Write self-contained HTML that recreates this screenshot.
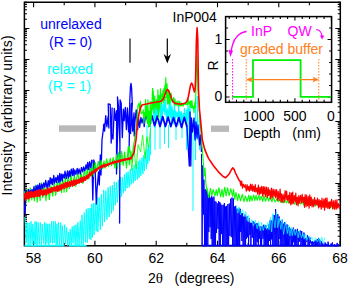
<!DOCTYPE html><html><head><meta charset="utf-8"><style>html,body{margin:0;padding:0;background:#fff;width:349px;height:287px;overflow:hidden}svg{display:block}text{font-family:"Liberation Sans",sans-serif}</style></head><body><svg width="349" height="287" viewBox="0 0 349 287"><rect x="24.4" y="2.25" width="315.90000000000003" height="243.55" fill="none" stroke="#000" stroke-width="1.5"/><path d="M33.6 245.8v-5M33.6 2.25v5M64.2 245.8v-3M64.2 2.25v3M94.9 245.8v-5M94.9 2.25v5M125.6 245.8v-3M125.6 2.25v3M156.2 245.8v-5M156.2 2.25v5M186.8 245.8v-3M186.8 2.25v3M217.5 245.8v-5M217.5 2.25v5M248.2 245.8v-3M248.2 2.25v3M278.8 245.8v-5M278.8 2.25v5M309.4 245.8v-3M309.4 2.25v3M340.1 245.8v-5M340.1 2.25v5M24.4 28.5h5M340.3 28.5h-5M24.4 19.2h2.6M340.3 19.2h-2.6M24.4 13.7h2.6M340.3 13.7h-2.6M24.4 9.8h2.6M340.3 9.8h-2.6M24.4 6.8h2.6M340.3 6.8h-2.6M24.4 4.4h2.6M340.3 4.4h-2.6M24.4 2.3h2.6M340.3 2.3h-2.6M24.4 59.5h5M340.3 59.5h-5M24.4 50.2h2.6M340.3 50.2h-2.6M24.4 44.7h2.6M340.3 44.7h-2.6M24.4 40.8h2.6M340.3 40.8h-2.6M24.4 37.8h2.6M340.3 37.8h-2.6M24.4 35.4h2.6M340.3 35.4h-2.6M24.4 33.3h2.6M340.3 33.3h-2.6M24.4 31.5h2.6M340.3 31.5h-2.6M24.4 29.9h2.6M340.3 29.9h-2.6M24.4 90.5h5M340.3 90.5h-5M24.4 81.2h2.6M340.3 81.2h-2.6M24.4 75.7h2.6M340.3 75.7h-2.6M24.4 71.8h2.6M340.3 71.8h-2.6M24.4 68.8h2.6M340.3 68.8h-2.6M24.4 66.4h2.6M340.3 66.4h-2.6M24.4 64.3h2.6M340.3 64.3h-2.6M24.4 62.5h2.6M340.3 62.5h-2.6M24.4 60.9h2.6M340.3 60.9h-2.6M24.4 121.5h5M340.3 121.5h-5M24.4 112.2h2.6M340.3 112.2h-2.6M24.4 106.7h2.6M340.3 106.7h-2.6M24.4 102.8h2.6M340.3 102.8h-2.6M24.4 99.8h2.6M340.3 99.8h-2.6M24.4 97.4h2.6M340.3 97.4h-2.6M24.4 95.3h2.6M340.3 95.3h-2.6M24.4 93.5h2.6M340.3 93.5h-2.6M24.4 91.9h2.6M340.3 91.9h-2.6M24.4 152.5h5M340.3 152.5h-5M24.4 143.2h2.6M340.3 143.2h-2.6M24.4 137.7h2.6M340.3 137.7h-2.6M24.4 133.8h2.6M340.3 133.8h-2.6M24.4 130.8h2.6M340.3 130.8h-2.6M24.4 128.4h2.6M340.3 128.4h-2.6M24.4 126.3h2.6M340.3 126.3h-2.6M24.4 124.5h2.6M340.3 124.5h-2.6M24.4 122.9h2.6M340.3 122.9h-2.6M24.4 183.5h5M340.3 183.5h-5M24.4 174.2h2.6M340.3 174.2h-2.6M24.4 168.7h2.6M340.3 168.7h-2.6M24.4 164.8h2.6M340.3 164.8h-2.6M24.4 161.8h2.6M340.3 161.8h-2.6M24.4 159.4h2.6M340.3 159.4h-2.6M24.4 157.3h2.6M340.3 157.3h-2.6M24.4 155.5h2.6M340.3 155.5h-2.6M24.4 153.9h2.6M340.3 153.9h-2.6M24.4 214.5h5M340.3 214.5h-5M24.4 205.2h2.6M340.3 205.2h-2.6M24.4 199.7h2.6M340.3 199.7h-2.6M24.4 195.8h2.6M340.3 195.8h-2.6M24.4 192.8h2.6M340.3 192.8h-2.6M24.4 190.4h2.6M340.3 190.4h-2.6M24.4 188.3h2.6M340.3 188.3h-2.6M24.4 186.5h2.6M340.3 186.5h-2.6M24.4 184.9h2.6M340.3 184.9h-2.6M24.4 245.5h5M340.3 245.5h-5M24.4 236.2h2.6M340.3 236.2h-2.6M24.4 230.7h2.6M340.3 230.7h-2.6M24.4 226.8h2.6M340.3 226.8h-2.6M24.4 223.8h2.6M340.3 223.8h-2.6M24.4 221.4h2.6M340.3 221.4h-2.6M24.4 219.3h2.6M340.3 219.3h-2.6M24.4 217.5h2.6M340.3 217.5h-2.6M24.4 215.9h2.6M340.3 215.9h-2.6" stroke="#000" stroke-width="1.1" fill="none"/><text x="33.6" y="263" font-size="14" fill="#000" text-anchor="middle" >58</text><text x="94.9" y="263" font-size="14" fill="#000" text-anchor="middle" >60</text><text x="156.2" y="263" font-size="14" fill="#000" text-anchor="middle" >62</text><text x="217.5" y="263" font-size="14" fill="#000" text-anchor="middle" >64</text><text x="278.8" y="263" font-size="14" fill="#000" text-anchor="middle" >66</text><text x="340.1" y="263" font-size="14" fill="#000" text-anchor="middle" >68</text><text x="148" y="282.5" font-size="14" fill="#000">2<tspan font-family="Liberation Serif, serif" style="font-family:Liberation Serif" font-size="15">θ</tspan></text><text x="204.5" y="282.5" font-size="14" fill="#000" text-anchor="middle" >(degrees)</text><text x="0" y="0" font-size="14" fill="#000" text-anchor="middle" transform="translate(12.4,115.3) rotate(-90)" letter-spacing="0.22" xml:space="preserve">Intensity  (arbitrary units)</text><text x="40.2" y="29" font-size="14" fill="#0000ff" text-anchor="start" >unrelaxed</text><text x="49.1" y="47.4" font-size="14" fill="#0000ff" text-anchor="start" >(R = 0)</text><text x="47.2" y="74.1" font-size="14" fill="#00ffff" text-anchor="start" >relaxed</text><text x="48.1" y="91.2" font-size="14" fill="#00ffff" text-anchor="start" >(R = 1)</text><text x="172.5" y="22" font-size="14" fill="#000" text-anchor="start" >InP004</text><rect x="59" y="125.3" width="37" height="6.5" fill="#b9b9b9"/><rect x="211" y="125.6" width="18" height="6.3" fill="#b9b9b9"/><path d="M130 38.4V62.8" stroke="#404040" stroke-width="1.5"/><path d="M167.3 38.4V58" stroke="#000" stroke-width="1.2"/><path d="M163.6 54L167.3 63.5L171 54L167.3 57Z" fill="#000"/><path d="M24.8 217.0 25.2 222.4 26.2 243.2 27.1 222.5 28.1 245.4 29.1 222.9 30.2 245.7 31.0 221.3 32.2 243.9 32.8 223.9 34.1 244.0 35.1 221.5 35.7 244.4 36.4 221.6 37.2 245.9 38.2 222.3 39.3 244.4 40.4 222.5 41.4 244.6 42.2 224.0 43.5 243.5 44.5 221.9 45.3 245.1 46.0 223.3 46.9 243.5 47.8 223.9 48.9 246.0 49.7 223.7 50.7 243.1 51.6 221.2 52.6 243.7 53.4 221.3 54.3 243.1 55.3 221.4 56.2 245.7 56.9 223.8 57.6 244.4 58.5 222.3 59.6 245.6 60.7 222.6 61.6 245.4 62.4 225.4 63.5 245.2 64.7 224.6 65.6 243.9 66.6 227.4 67.8 245.6 68.6 231.9 69.5 245.4 70.2 229.2 71.2 245.5 72.2 226.7 73.1 243.6 74.1 225.5 75.2 245.5 76.0 224.6 77.1 245.2 77.9 222.4 79.1 245.4 80.3 220.6 81.3 244.5 82.0 215.1 83.2 245.1 84.3 212.6 85.4 242.3 86.3 209.4 87.3 242.9 88.1 208.3 89.3 238.9 90.1 208.0 90.9 239.9 91.7 204.3 92.4 237.6 93.3 203.2 94.0 235.0 95.2 203.1 96.2 231.1 97.2 197.2 97.9 232.2 99.1 197.6 100.3 229.6 101.3 194.1 102.4 226.2 103.7 189.8 104.6 222.1 105.8 190.7 106.9 219.6 108.1 187.4 109.1 217.0 110.3 186.1 111.4 213.5 112.4 185.2 113.3 210.7 114.3 181.8 115.3 205.2 116.5 182.2 117.4 202.7 118.4 179.8 119.5 201.1 120.6 176.9 121.6 196.5 122.4 177.2 123.4 193.3 124.5 174.4 125.2 191.1 126.3 172.7 127.0 188.2 128.1 171.6 129.2 187.4 130.3 168.9 131.2 184.6 132.4 168.5 133.3 183.2 134.1 165.2 135.1 181.0 136.2 164.1 137.4 179.7 138.2 161.1 139.0 178.1 139.9 159.4 140.8 175.8 142.0 157.6 142.9 174.1 143.6 155.4 144.3 171.1 145.3 151.8 146.4 168.9 147.1 148.9 147.8 163.9 148.6 145.7 149.3 161.1 150.2 140.5" stroke="#00ffff" stroke-width="1.0" fill="none" stroke-linejoin="round" /><path d="M24.5 245.6H64.5M69 245.6H86.5" stroke="#00ffff" stroke-width="1.8"/><path d="M153.0 110.2 153.9 118.6 154.5 102.8 155.0 127.8 155.7 103.9 156.3 123.5 156.9 101.4 157.6 117.2 158.4 95.8 159.3 112.0 159.8 105.2 160.6 125.7 161.3 99.6 162.1 121.3 162.9 104.0 163.7 111.1 164.4 99.8 164.9 115.0 165.8 100.9 166.6 124.5 167.4 108.9 168.3 120.3 169.2 102.3 170.0 117.2 170.7 101.1 171.3 121.1 172.2 106.4 172.7 118.0 173.2 110.4 173.7 123.9 174.6 102.4 175.1 121.7 175.9 111.1 176.7 116.5 177.4 112.6 177.9 125.3 178.6 104.8 179.4 120.4 180.1 111.6 180.9 124.3 181.5 111.7 182.4 125.6 183.2 113.3 183.9 121.3 184.5 108.4 185.2 121.0 185.7 113.5 186.4 123.4 187.2 109.0 187.9 120.1 188.5 108.9 189.1 117.2 190.0 106.0 190.7 126.6" stroke="#00ffff" stroke-width="1.1" fill="none" stroke-linejoin="round" /><path d="M147 125V154M150.5 125V155M155 125V150M160 125V149M164.5 125V144M168.5 125V148M176 125V140M182 125V138M193 120V211" stroke="#00ffff" stroke-width="1.0"/><path d="M186.5 110V150M188 105V146M195.5 100V160M197.5 96V140M199.5 110V150" stroke="#00ffff" stroke-width="1.2"/><path d="M91.9 159.8 92.8 200.0 93.8 160.0 95.0 165.0 96.3 204.0 97.0 190.0 98.5 172.0 99.3 185.0 100.3 155.0 101.0 175.0 102.0 140.0 103.0 132.0 104.0 124.0 103.5 125.8 104.6 131.1 105.7 115.6 106.9 126.8 108.1 116.2 108.9 128.0 108.2 104.0 110.2 104.3 111.2 143.0 112.1 107.9 111.7 134.0 113.0 139.0 114.3 108.5 115.4 120.4 116.6 110.7 116.5 174.0 117.8 124.1 117.5 97.0 118.6 107.0 119.9 144.7 119.6 223.0 120.1 100.0 121.2 103.0 122.3 137.6 123.4 109.1 124.2 120.7 125.3 107.4 126.4 129.6 127.4 107.9 128.6 131.9 129.8 103.9 129.1 152.0 129.8 100.0 130.5 86.0 131.0 83.4 131.6 88.0 132.3 104.0 130.6 133.5 131.4 103.5 132.7 131.1 134.0 112.8 134.2 136.0 134.8 123.0 136.2 109.8 137.6 129.7 138.6 118.1 139.6 127.3 140.9 117.5 142.0 123.2 143.3 117.8 144.2 126.7 145.3 116.6" stroke="#0000ff" stroke-width="1.3" fill="none" stroke-linejoin="round" /><path d="M145.3 116.6 146.5 115.6 149.2 126.0 151.9 115.8 154.6 125.7 157.3 116.1 160.0 126.4 162.7 116.6 165.4 126.5 168.1 117.1 170.8 126.6 173.5 117.6 176.2 126.5 178.9 117.6 181.6 127.4 184.3 117.3 187.0 127.0" stroke="#0000ff" stroke-width="1.8" fill="none" stroke-linejoin="round" /><path d="M187.0 127.0 189.3 166.0 190.0 112.0 190.8 166.0 191.5 118.0 192.5 132.0 194.0 118.0 195.0 140.0 196.0 122.0 197.0 138.0 198.0 125.0 199.5 145.0 200.5 135.0 201.5 152.0" stroke="#0000ff" stroke-width="1.3" fill="none" stroke-linejoin="round" /><path d="M201.5 153.9 202.1 245.6 202.8 165.4 203.4 214.5 203.9 179.7 204.6 245.6 205.0 189.3 205.5 245.6 206.1 189.3 206.6 245.6 207.2 191.6 207.8 245.6 208.4 194.9 208.8 232.1 209.5 192.7 210.1 227.2 210.7 197.7 211.2 239.1 211.7 195.8 212.2 245.6 212.6 197.7 213.2 245.6 213.9 196.6 214.3 245.6 214.8 200.9 215.5 245.6 216.0 201.7 216.5 232.9 217.3 203.4 218.0 228.9 218.5 201.4 219.2 245.6 219.7 201.9 220.3 245.6 220.7 203.5 221.4 234.1 221.9 205.1 222.6 245.6 223.2 204.7 223.8 245.6 224.4 203.0 225.0 245.6 225.5 206.5 226.2 245.6 226.6 205.9 227.3 245.6 227.9 204.1 228.6 245.6 229.3 203.5 229.9 236.0 230.6 198.8 231.3 237.2 232.0 197.5 232.7 245.6 233.4 198.5 233.9 245.6 234.6 206.5 235.1 245.6 235.7 205.9 236.4 245.6 236.9 208.6 237.5 245.6 238.1 209.1 238.8 245.6 239.3 208.2 239.7 245.6 240.2 208.8 240.7 232.0 241.3 213.2 241.9 241.0 242.4 213.1 243.1 245.6 243.6 216.4 244.2 245.6 244.8 214.5 245.6 245.6 246.0 216.8 246.5 238.7 247.0 216.3 247.5 237.3 248.1 221.8 248.6 245.6 249.3 218.2 249.9 235.1 250.4 222.8 250.9 245.6 251.6 222.8 252.3 237.7 253.0 221.1 253.7 245.6 254.3 222.2 255.0 245.6 255.4 223.6 256.0 245.6 256.6 223.2 257.2 242.2 257.8 223.4 258.3 245.6 258.9 226.3 259.3 238.7 259.9 226.0 260.5 245.6 261.0 226.5 261.6 245.6 262.3 226.1 263.0 238.8 263.7 224.8 264.1 245.6 264.8 225.1 265.3 245.6 265.8 225.3 266.2 245.6 266.6 228.7 267.2 245.6 267.9 228.1 268.4 245.6 268.8 224.6 269.4 241.0 270.1 220.4 270.6 245.6 271.0 220.5 271.6 239.4 272.0 220.5 272.8 245.6 273.3 214.9 274.0 245.6 274.6 215.1 275.1 245.6 275.6 209.0 276.1 245.6 276.6 214.8 277.1 245.6 277.8 214.3 278.6 245.6 279.2 216.6 279.9 239.2 280.3 220.8 280.8 245.6 281.4 222.1 281.9 245.6 282.3 219.8 283.0 245.6 283.5 223.7 284.2 245.6 284.9 222.0 285.4 245.6 285.9 225.2 286.4 245.6 287.0 224.4 287.6 245.6 288.0 228.0 288.6 245.6 289.3 227.1 289.9 245.6 290.7 228.6 291.4 245.6 292.0 229.7 292.6 245.6 293.3 227.6 293.7 242.3 294.3 230.3 294.8 245.6 295.2 229.4 295.8 245.6 296.5 230.5 296.9 245.6 297.4 228.8 298.2 245.6 298.9 231.4 299.5 241.6 300.3 230.6 300.9 245.6 301.7 231.0 302.1 245.6 302.6 236.0 303.3 245.6 303.9 232.5 304.3 245.6 304.8 237.6 305.6 245.6 306.1 238.3 306.8 241.8 307.4 235.3 308.1 245.6 308.7 236.2 309.4 245.6 310.1 237.6 310.8 243.5 311.4 241.6 312.0 245.6 312.5 241.2 313.0 245.6 313.6 242.3 314.1 244.7 314.6 240.6 315.3 245.6 315.9 240.4 316.7 245.6 317.3 239.0 317.9 245.6 318.6 237.9 319.1 245.6 319.6 239.2 320.0 243.1 320.6 240.7 321.1 245.6 321.6 241.4 322.2 245.6 322.9 243.4 323.5 245.6 324.0 245.9 324.5 245.6 325.1 242.4 325.7 245.5 326.2 243.8 326.6 245.6 327.0 244.5 327.7 245.1 328.1 241.7 328.7 245.6 329.2 245.7 329.6 245.6 330.2 245.8 330.7 245.6 331.1 243.5 331.7 245.6 332.4 242.5 333.0 245.6 333.5 245.7 334.2 245.6 334.7 244.2 335.2 245.6 335.8 246.3 336.5 245.6 337.2 242.9 337.7 245.6 338.2 244.3 338.8 245.6" stroke="#0000ff" stroke-width="1.0" fill="none" stroke-linejoin="round" /><path d="M202 245.6H339.5" stroke="#0000ff" stroke-width="1.6"/><path d="M236.0 205.1 237.8 213.1 239.2 207.0 240.5 214.9 242.6 209.6 244.0 216.7 245.7 211.8 247.2 220.6 248.4 215.3 250.2 222.8 251.9 219.5 253.4 226.0 255.4 220.2 257.2 228.8 258.7 221.7 260.3 230.6 261.6 222.4 263.2 230.6 264.8 224.5 266.5 229.3 267.8 222.3 269.0 229.7 270.5 217.4 271.6 231.9 273.0 213.6 275.0 227.8 276.4 211.9 277.7 227.6 279.1 218.3 280.9 229.4 282.1 218.8 283.6 234.5 285.5 222.0 287.4 233.5 288.6 225.0 289.9 235.9 291.2 227.5 292.3 235.6 293.9 228.6 295.1 235.3 296.5 230.3 298.2 237.8 299.6 230.5 301.4 238.0 302.9 233.7 304.2 239.1 305.6 233.8 306.8 240.4 308.5 236.1 310.4 239.9 311.8 237.3 313.8 242.0 315.6 237.8 317.7 241.7 319.0 238.2 320.2 243.1 321.7 237.1 323.2 243.3 324.8 237.6" stroke="#00ffff" stroke-width="0.9" fill="none" stroke-linejoin="round" opacity="0.8"/><path d="M24.5 191.2 26.0 203.1 27.6 189.3 28.8 201.9 30.2 187.9 31.8 200.0 33.3 188.9 34.4 201.0 35.8 185.1 37.2 202.2 38.7 186.3 40.1 200.6 41.4 182.8 42.8 197.6 44.3 183.4 46.0 200.8 47.5 184.6 49.4 199.6 50.9 185.5 52.7 196.1 54.3 181.9 55.7 195.5 57.5 181.9 58.9 191.1 60.0 176.6 61.5 192.7 62.9 179.5 64.1 192.1 65.3 177.3 66.6 191.9 68.1 174.9 69.4 188.5 71.0 174.6 72.6 186.8 74.4 175.2 75.8 186.4 77.6 171.2 79.3 183.3 81.0 172.6 82.8 183.4 84.4 169.0 85.9 180.4 87.3 168.6 88.8 179.0 90.1 165.7 91.3 176.3 92.4 163.6 93.5 176.2 95.2 162.5 96.7 171.8 98.2 161.3 100.0 169.4 101.1 160.4 102.6 168.7 104.0 160.8 105.3 168.1 106.6 158.8 108.4 166.7 110.2 158.3 111.6 166.0 113.2 157.6 115.0 168.2 116.4 154.6 117.6 168.5 118.7 152.3 120.6 164.5 121.7 151.3 123.2 165.7 124.6 152.0 126.5 168.1 128.2 146.7 129.3 165.0 131.0 151.5 132.2 161.7 133.2 148.2 136.0 130.0 138.0 105.0 139.0 103.4 139.6 110.5 140.5 101.3 141.1 113.8 141.9 112.8 142.6 112.9 143.3 109.7 143.9 123.4 144.4 112.5 145.0 117.7 145.5 99.6 146.0 116.0 146.6 105.7 147.2 123.1 147.9 99.7 148.5 126.9 149.0 111.0 149.6 126.3 150.2 101.6 151.1 123.4 151.9 101.1 152.6 109.6 153.3 91.2 154.0 112.9 154.7 96.0 155.6 108.1 156.5 99.7 157.4 110.1 157.9 89.8 158.5 117.9 159.0 95.2 159.8 108.5 160.5 88.9 161.1 98.3 161.6 95.6 162.4 100.1 163.2 93.2 164.0 98.9 164.9 100.6 165.4 96.9 166.1 96.9 166.6 97.6 167.1 95.5 167.7 104.1 168.4 96.7 169.2 104.1 170.0 93.8 170.6 98.6 171.2 93.0 171.8 100.9 172.4 100.0 173.1 102.4 173.7 97.3 174.2 105.0 174.9 98.9 175.6 105.1 176.2 101.7 177.1 106.0 178.0 100.8 178.8 106.5 179.7 101.4 180.6 106.0 181.3 102.7 181.8 105.8 182.6 103.9 183.2 106.2 183.9 104.1 184.4 104.3 185.1 102.7 185.6 104.5 186.5 103.5 187.3 105.3 188.0 98.4 188.8 104.2 189.5 101.7 190.2 107.1 190.8 100.7 191.5 107.9 192.0 100.5 192.7 108.2 193.4 106.2 194.0 112.6 194.9 102.2 195.5 107.6 196.3 70.0 196.8 55.0 197.4 70.0 198.2 92.0 200.0 120.0 202.4 150.0 203.5 165.0 204.3 176.0 205.0 168.0 205.8 182.0 206.5 190.0 207.0 188.1 208.7 197.7 210.5 188.4 211.7 195.7 213.2 189.6 214.9 195.8 216.3 189.7 217.3 195.6 218.9 187.7 220.6 196.8 222.0 189.4 223.2 197.2 224.7 187.2 226.1 195.8 227.5 187.7 229.2 195.6 230.8 188.5 232.5 196.1 233.6 189.4 234.7 199.3 236.0 192.5 237.7 200.6 238.8 193.8 240.5 200.8 242.2 194.3 244.0 201.6 245.5 196.0 247.1 201.6 248.7 195.2 249.7 201.4 250.9 195.7 252.1 200.9 253.7 195.0 254.8 200.7 256.1 195.0 257.2 200.3 258.7 195.6 259.9 200.3 261.4 196.3 262.7 201.5 264.0 195.4 265.5 201.3 267.2 196.0 268.6 201.2 270.3 196.2 271.9 201.8 273.4 197.1 275.1 202.1 276.8 198.7 278.2 201.8 279.5 199.6 280.9 202.6 282.0 199.6 283.2 202.9 285.0 199.8 286.5 203.0 287.7 200.2 288.8 203.0 290.0 200.4 291.3 203.3 293.0 200.9 294.4 204.3 296.1 200.7 297.4 204.4 299.0 201.6 300.3 204.1 302.1 201.2 303.6 204.9 304.9 202.0 306.1 204.9 307.6 202.7 309.4 204.9 310.7 202.9 312.2 205.5 314.0 202.5 315.4 206.1 316.9 202.9 318.8 206.7 320.0 203.1 321.4 206.4 322.4 203.4 323.9 206.8 325.5 203.8 327.2 207.0 328.8 204.0 330.2 208.0 331.9 205.1 333.6 208.3 334.9 205.0 336.3 208.5 338.0 205.1" stroke="#00ff00" stroke-width="1.1" fill="none" stroke-linejoin="round" /><path d="M161.0 96.3 161.6 103.5 162.0 94.2 162.5 100.2 162.9 90.5 163.3 102.7 163.9 88.3 164.4 97.1 164.8 85.6 165.3 94.0 165.8 77.6 166.4 95.7 167.1 83.9 167.5 102.8 168.2 90.1 168.8 103.1 169.3 90.8 169.8 102.8 170.5 97.7" stroke="#00ff00" stroke-width="1.1" fill="none" stroke-linejoin="round" /><path d="M130.0 150.4 131.9 170.3 133.6 145.4 136.1 168.8 138.1 144.7 140.6 151.9 142.6 135.0 145.1 158.8 146.9 136.8 148.6 147.5 150.5 128.7" stroke="#00ff00" stroke-width="0.8" fill="none" stroke-linejoin="round" /><path d="M152.2 100L152.6 88L153 100M128.8 152L129.3 146L129.8 152" stroke="#00ff00" stroke-width="1.2" fill="none"/><path d="M24.6 205.0 25.2 214.0 25.8 190.0 26.5 192.0 27.7 197.5 28.6 189.5 29.7 195.5 30.5 190.4 31.2 196.8 32.0 189.3 32.9 195.4 34.0 186.5 35.1 194.8 36.1 185.7 37.0 192.6 37.9 185.0 38.9 191.6 39.7 183.5 40.7 190.2 41.8 184.2 42.8 188.4 43.7 182.8 44.9 187.2 45.7 180.4 47.0 188.0 48.3 180.6 49.1 186.8 50.2 177.7 51.0 184.1 51.9 178.6 52.7 184.7 53.8 175.5 54.6 183.0 55.9 177.5 56.6 182.7 57.8 175.4 58.9 182.7 59.7 173.4 60.4 181.0 61.4 174.1 62.2 181.3 63.0 174.2 64.3 178.2 65.0 171.2 66.3 178.7 67.5 170.9 68.5 177.7 69.4 170.9 70.1 176.5 71.3 169.1 72.3 175.6 73.2 168.5 74.0 175.6 74.8 170.0 75.9 174.4 77.2 168.4 78.1 174.0 79.1 168.8 80.3 174.1 81.5 167.3 82.7 171.8 83.6 167.0 84.9 170.9 86.0 164.9 87.0 169.1 87.7 162.4 88.7 169.7 89.6 161.7 90.7 167.4 91.9 159.8" stroke="#0000ff" stroke-width="1.3" fill="none" stroke-linejoin="round" /><path d="M24.5 193.4 25.4 200.2 26.5 192.2 27.4 198.7 28.2 192.2 28.9 198.7 29.7 192.4 30.5 197.5 31.3 191.2 32.2 196.7 32.8 192.0 34.0 197.4 34.9 191.1 35.7 196.5 36.7 190.7 37.6 196.2 38.6 189.8 39.3 196.3 40.1 190.9 40.9 194.8 41.8 189.6 42.8 195.7 43.9 190.1 44.7 194.8 45.8 189.7 46.8 194.7 47.8 188.0 48.8 193.4 49.9 188.6 50.6 192.3 51.6 187.9 52.2 192.0 53.1 187.6 54.3 191.0 54.9 187.1 55.8 190.8 56.6 186.1 57.5 191.2 58.3 186.0 59.0 190.7 60.0 185.3 61.0 190.0 61.7 184.2 62.8 188.6 63.9 183.3 64.8 188.0 65.9 182.5 67.0 187.3 67.6 182.4 68.5 186.5 69.6 181.9 70.6 186.2 71.6 180.7 72.7 185.8 73.6 180.2 74.4 185.1 75.3 180.2 76.2 184.2 77.1 179.9 77.9 183.3 78.8 179.6 79.6 182.6 80.4 178.0 81.4 182.1 82.2 177.2 83.3 181.7 84.3 176.9 85.2 180.2 86.4 176.1 87.3 178.7 88.0 174.8 88.7 177.7 89.8 172.7 90.8 175.7 91.7 171.8 92.4 173.9 93.5 171.0 94.2 172.7 94.9 169.5 95.8 171.5 96.5 168.9 97.5 170.0 98.6 167.4 99.4 168.4 100.4 166.0 101.5 167.5 102.3 165.4 103.0 167.1 103.7 164.9 104.5 166.8 105.4 164.4 106.2 166.1 107.1 164.1 107.8 165.2 108.9 163.4 109.8 164.5 110.7 162.8 111.8 163.7 112.6 161.8 113.7 163.3 114.8 161.2 115.7 162.7 116.7 161.1 117.6 162.1 118.4 160.3 119.6 161.9 120.7 160.0 121.4 161.0 122.1 159.6 122.8 160.7 123.6 159.4 124.2 160.5 124.9 158.7 125.8 160.0 126.8 158.6 127.9 159.7 128.5 158.1 129.3 159.4 130.1 157.7 130.8 158.9 131.7 157.3 134.0 152.7 136.0 140.0 137.5 123.0 139.0 113.7 140.5 107.5 142.0 105.0 150.0 103.3 160.0 101.5 162.0 100.5 163.5 98.5 165.0 94.5 166.3 91.0 167.4 89.4 168.5 90.5 170.0 94.0 171.5 98.5 173.0 101.8 175.0 103.3 180.0 104.2 185.0 103.3 186.8 101.5 188.3 97.0 189.6 90.0 190.6 85.0 191.5 83.0 192.4 84.2 193.3 88.0 194.4 92.0 195.1 89.0 195.6 78.0 196.4 40.0 197.1 27.8 197.8 40.0 198.5 90.0 199.5 110.0 200.3 117.6 201.5 129.8 202.3 139.8 204.8 149.6 208.4 158.1 213.3 165.5 218.2 171.6 223.1 176.5 225.6 177.7 229.2 174.0 231.5 169.5 232.9 167.9 234.2 169.5 235.5 173.0 239.0 180.1 241.0 182.0" stroke="#ff0000" stroke-width="1.6" fill="none" stroke-linejoin="round" /><path d="M240.0 181.4 240.8 185.7 241.7 181.0 242.4 188.2 243.3 184.0 244.3 187.3 245.3 184.7 246.3 191.1 247.1 184.6 248.0 190.1 248.8 186.4 249.4 191.1 250.5 184.2 251.1 190.5 252.1 184.3 252.7 191.1 253.6 186.2 254.4 191.7 255.3 184.7 255.9 192.0 257.0 187.9 257.7 194.1 258.4 185.1 259.4 194.8 260.2 187.3 260.9 193.7 261.7 186.4 262.7 196.1 263.3 186.7 264.1 194.1 264.8 186.8 265.7 196.6 266.5 187.1 267.5 197.5 268.2 187.6 268.9 195.5 269.8 189.9 270.6 198.9 271.5 188.0 272.2 198.0 273.2 189.0 274.0 196.4 275.0 189.5 275.6 197.6 276.6 189.7 277.5 200.2 278.2 191.4 279.1 200.3 280.1 189.1 280.9 201.3 281.5 193.8 282.1 202.4 283.1 194.3 284.1 202.1 285.1 190.7 286.0 199.6 286.6 191.0 287.5 200.2 288.4 195.3 289.2 203.0 289.8 192.3 290.8 204.8 291.5 193.0 292.1 203.9 292.7 192.1 293.5 203.1 294.4 195.6 295.2 201.4 295.8 193.2 296.4 204.8 297.3 197.0 298.1 205.8 298.8 195.5 299.5 203.0 300.5 195.3 301.4 203.0 302.2 194.3 303.2 202.6 303.8 197.3 304.5 207.3 305.1 194.7 306.1 206.7 306.6 195.1 307.6 205.6 308.4 196.6 309.1 208.1 309.8 194.8 310.5 205.4 311.2 197.1 312.1 207.0 312.8 199.3 313.7 206.7 314.5 197.5 315.2 204.6 315.9 200.0 316.8 205.0 317.5 198.2 318.5 208.0 319.1 199.5 319.8 206.8 320.5 200.7 321.2 209.2 322.0 198.2 322.9 207.6 323.9 199.2 324.6 210.1 325.4 198.4 326.2 207.4 327.0 197.8 327.8 208.3 328.7 202.1 329.4 208.7 330.0 201.5 330.7 207.1 331.6 199.3 332.6 208.8 333.4 200.9 334.4 209.1 335.2 200.0 336.1 209.3 336.9 199.9 337.5 208.0 338.5 203.6 339.5 208.9" stroke="#ff0000" stroke-width="1.2" fill="none" stroke-linejoin="round" /><rect x="225.6" y="16.6" width="106.00000000000003" height="85.69999999999999" fill="#fff" stroke="#000" stroke-width="1.5"/><path d="M331.4 16.6v4M331.4 102.3v-4M324.1 16.6v2.5M324.1 102.3v-2.5M316.8 16.6v2.5M316.8 102.3v-2.5M309.5 16.6v2.5M309.5 102.3v-2.5M302.2 16.6v2.5M302.2 102.3v-2.5M294.9 16.6v4M294.9 102.3v-4M287.6 16.6v2.5M287.6 102.3v-2.5M280.3 16.6v2.5M280.3 102.3v-2.5M273.0 16.6v2.5M273.0 102.3v-2.5M265.7 16.6v2.5M265.7 102.3v-2.5M258.4 16.6v4M258.4 102.3v-4M251.1 16.6v2.5M251.1 102.3v-2.5M243.8 16.6v2.5M243.8 102.3v-2.5M236.5 16.6v2.5M236.5 102.3v-2.5M229.2 16.6v2.5M229.2 102.3v-2.5M225.6 97.0h4M331.6 97.0h-4M225.6 85.5h2.5M331.6 85.5h-2.5M225.6 74.0h2.5M331.6 74.0h-2.5M225.6 62.5h2.5M331.6 62.5h-2.5M225.6 51.0h2.5M331.6 51.0h-2.5M225.6 39.5h4M331.6 39.5h-4M225.6 28.0h2.5M331.6 28.0h-2.5" stroke="#000" stroke-width="1.1" fill="none"/><text x="214.5" y="101" font-size="14" fill="#000" text-anchor="start" >0</text><text x="214.5" y="43.8" font-size="14" fill="#000" text-anchor="start" >1</text><text x="0" y="0" font-size="14" fill="#000" text-anchor="middle" transform="translate(218.4,65.4) rotate(-90)">R</text><text x="258.9" y="120.5" font-size="14" fill="#000" text-anchor="middle" >1000</text><text x="294.9" y="120.5" font-size="14" fill="#000" text-anchor="middle" >500</text><text x="331" y="120.5" font-size="14" fill="#000" text-anchor="middle" >0</text><text x="243.2" y="138" font-size="14" fill="#000" xml:space="preserve">Depth   (nm)</text><path d="M335.04999999999995 97.0" /><path d="M232.2 96.8H253V60.2H300.6V96.8H331" stroke="#00ee00" stroke-width="1.8" fill="none"/><path d="M232.6 59V100" stroke="#ff00ff" stroke-width="1" stroke-dasharray="1.5,1.5"/><path d="M246.2 59V100M318.8 59V100" stroke="#ff8020" stroke-width="1" stroke-dasharray="1.5,1.5"/><path d="M247 79.6H318" stroke="#ff8020" stroke-width="1.1"/><path d="M246 79.6L252.5 76.8L251 79.6L252.5 82.4Z M319 79.6L312.5 76.8L314 79.6L312.5 82.4Z" fill="#ff8020"/><text x="251" y="35.5" font-size="14" fill="#ff00ff" text-anchor="start" >InP</text><text x="287.5" y="35.5" font-size="14" fill="#ff00ff" text-anchor="start" >QW</text><text x="240" y="54" font-size="14" fill="#ff8020" text-anchor="start" >graded buffer</text><path d="M246.6 31.5C240 32 234 38 232.5 45C231.5 49 231 51 230.8 52" stroke="#ff00ff" stroke-width="1.3" fill="none"/><path d="M228.4 50L230.5 57L233 50.5Z" fill="#ff00ff"/><path d="M316 29.5 C320 30 322 33 322 37" stroke="#ff00ff" stroke-width="1.1" fill="none"/><path d="M319.8 35.5L322.2 39.5L324.2 35.5Z" fill="#ff00ff"/></svg></body></html>
